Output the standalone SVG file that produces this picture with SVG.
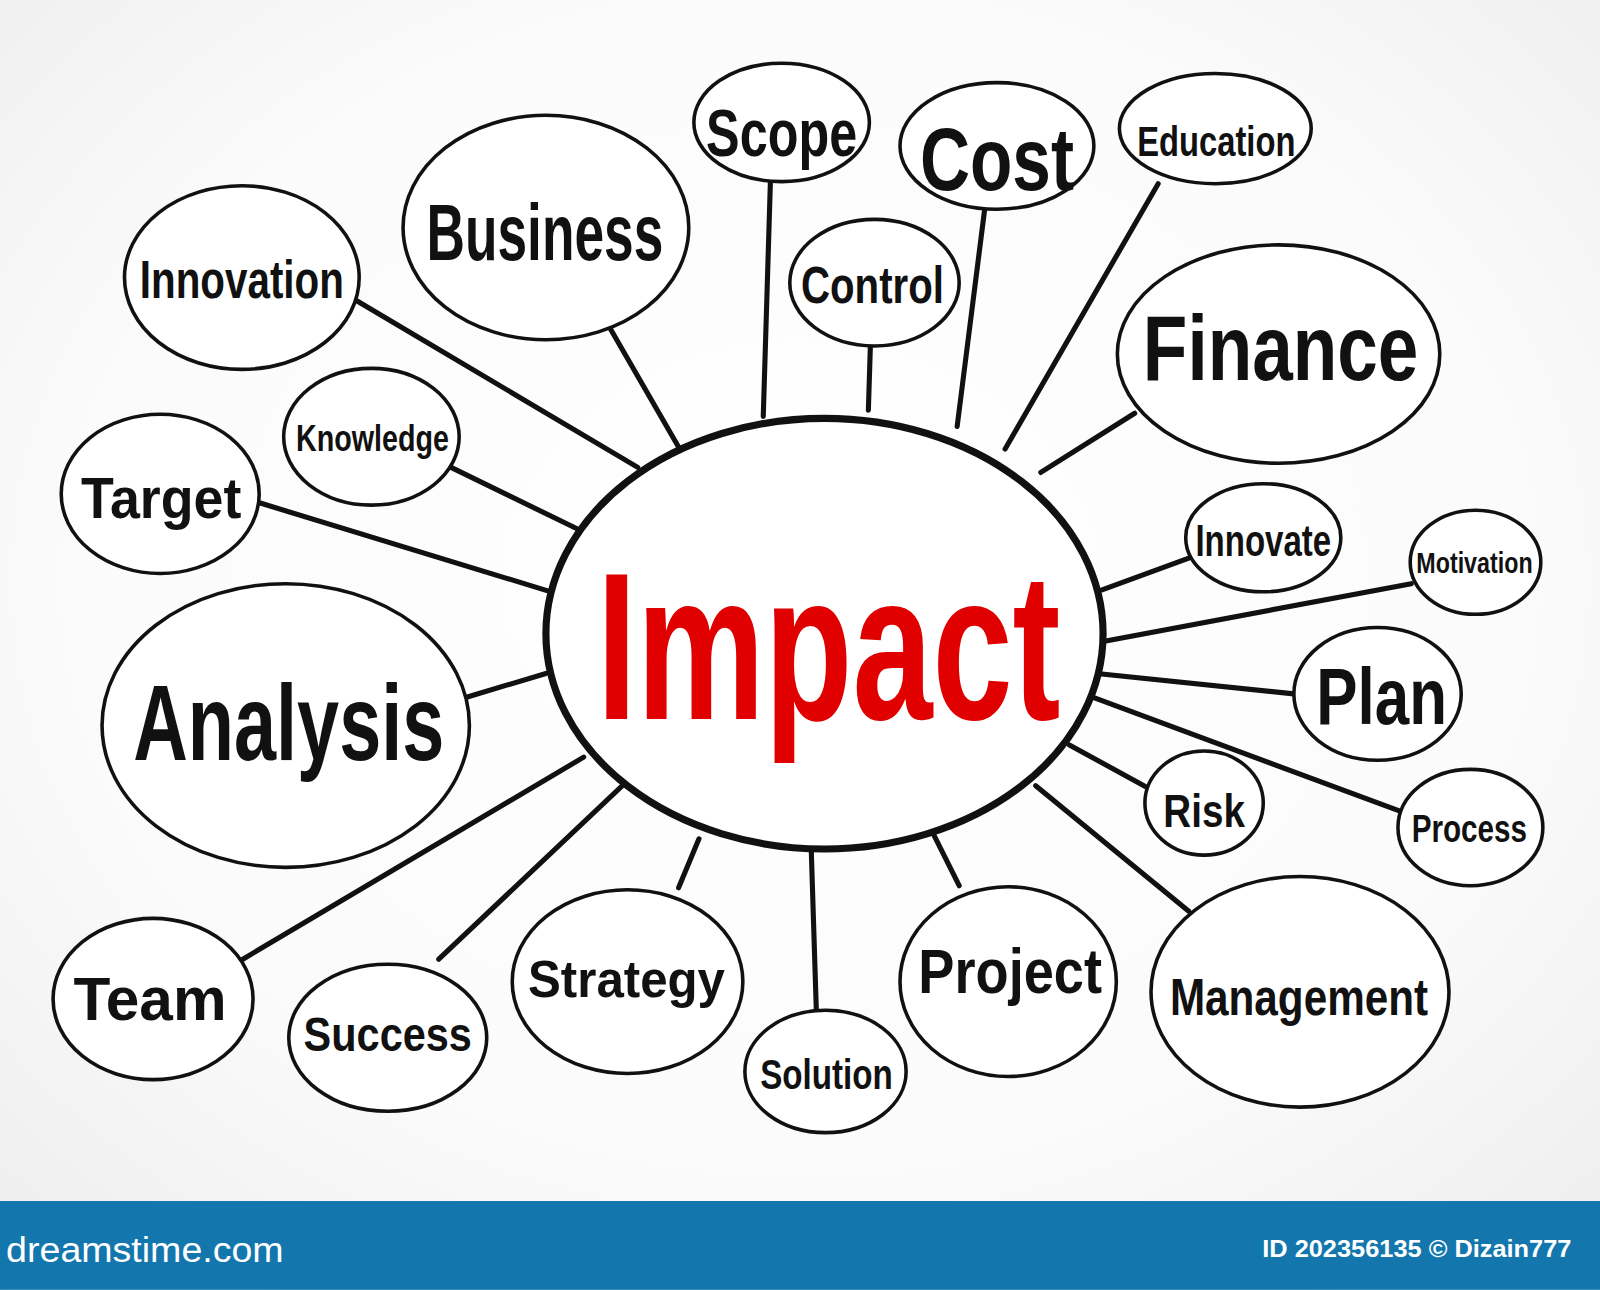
<svg xmlns="http://www.w3.org/2000/svg" width="1600" height="1290" viewBox="0 0 1600 1290">
<defs>
<radialGradient id="bg" cx="50%" cy="45%" r="75%">
<stop offset="0" stop-color="#ffffff"/>
<stop offset="0.6" stop-color="#fbfbfb"/>
<stop offset="1" stop-color="#ececec"/>
</radialGradient>
<style>
.n{fill:#ffffff;stroke:#111;stroke-width:3.5}
.c{fill:#ffffff;stroke:#111;stroke-width:7}
.t{font-family:"Liberation Sans","DejaVu Sans",sans-serif;font-weight:bold;fill:#111;text-anchor:middle}
.l{stroke:#111;stroke-width:5;stroke-linecap:round;fill:none}
.ft{font-family:"Liberation Sans","DejaVu Sans",sans-serif;fill:#ffffff}
</style>
</defs>
<rect width="1600" height="1290" fill="url(#bg)"/>
<g transform="scale(1.020408)">
<g id="connectors">
<line class="l" x1="350" y1="295" x2="625" y2="458"/>
<line class="l" x1="598" y1="322" x2="665" y2="438"/>
<line class="l" x1="755" y1="178" x2="748" y2="408"/>
<line class="l" x1="853" y1="338" x2="851" y2="402"/>
<line class="l" x1="965" y1="205" x2="938" y2="418"/>
<line class="l" x1="1135" y1="180" x2="985" y2="440"/>
<line class="l" x1="1112" y1="405" x2="1020" y2="463"/>
<line class="l" x1="442" y1="458" x2="565" y2="518"/>
<line class="l" x1="255" y1="493" x2="540" y2="580"/>
<line class="l" x1="458" y1="683" x2="535" y2="660"/>
<line class="l" x1="238" y1="940" x2="572" y2="742"/>
<line class="l" x1="430" y1="940" x2="612" y2="768"/>
<line class="l" x1="665" y1="870" x2="685" y2="822"/>
<line class="l" x1="800" y1="990" x2="795" y2="832"/>
<line class="l" x1="940" y1="868" x2="915" y2="818"/>
<line class="l" x1="1165" y1="893" x2="1015" y2="770"/>
<line class="l" x1="1130" y1="775" x2="1048" y2="730"/>
<line class="l" x1="1372" y1="795" x2="1070" y2="683"/>
<line class="l" x1="1268" y1="680" x2="1075" y2="660"/>
<line class="l" x1="1383" y1="572" x2="1085" y2="628"/>
<line class="l" x1="1165" y1="547" x2="1080" y2="578"/>
</g>
<g id="impact"><ellipse class="c" cx="808" cy="621" rx="273" ry="211"/><text class="t" transform="translate(812 705) scale(0.688 1)" x="0" y="0" font-size="205" style="fill:#e00000">Impact</text></g>
<g id="innovation"><ellipse class="n" cx="237" cy="272" rx="115" ry="90"/><text class="t" x="237" y="292" font-size="52" textLength="200" lengthAdjust="spacingAndGlyphs">Innovation</text></g>
<g id="business"><ellipse class="n" cx="535" cy="223" rx="140" ry="110"/><text class="t" x="534" y="255" font-size="78" textLength="232" lengthAdjust="spacingAndGlyphs">Business</text></g>
<g id="scope"><ellipse class="n" cx="766" cy="120" rx="86" ry="58"/><text class="t" x="766" y="153" font-size="66" textLength="148" lengthAdjust="spacingAndGlyphs">Scope</text></g>
<g id="cost"><ellipse class="n" cx="977" cy="143" rx="95" ry="62"/><text class="t" x="977" y="186" font-size="88" textLength="151" lengthAdjust="spacingAndGlyphs">Cost</text></g>
<g id="education"><ellipse class="n" cx="1191" cy="126" rx="94" ry="54"/><text class="t" x="1192" y="153" font-size="42" textLength="155" lengthAdjust="spacingAndGlyphs">Education</text></g>
<g id="control"><ellipse class="n" cx="857" cy="277" rx="83" ry="62"/><text class="t" x="855" y="297" font-size="50" textLength="140" lengthAdjust="spacingAndGlyphs">Control</text></g>
<g id="finance"><ellipse class="n" cx="1253" cy="347" rx="158" ry="107"/><text class="t" x="1255" y="372" font-size="90" textLength="270" lengthAdjust="spacingAndGlyphs">Finance</text></g>
<g id="knowledge"><ellipse class="n" cx="364" cy="428" rx="86" ry="67"/><text class="t" x="365" y="442" font-size="37" textLength="150" lengthAdjust="spacingAndGlyphs">Knowledge</text></g>
<g id="target"><ellipse class="n" cx="157" cy="484" rx="97" ry="78"/><text class="t" x="158" y="508" font-size="56" textLength="157" lengthAdjust="spacingAndGlyphs">Target</text></g>
<g id="analysis"><ellipse class="n" cx="280" cy="711" rx="180" ry="139"/><text class="t" x="283" y="745" font-size="106" textLength="305" lengthAdjust="spacingAndGlyphs">Analysis</text></g>
<g id="team"><ellipse class="n" cx="150" cy="979" rx="98" ry="79"/><text class="t" x="147" y="1000" font-size="60" textLength="150" lengthAdjust="spacingAndGlyphs">Team</text></g>
<g id="success"><ellipse class="n" cx="380" cy="1017" rx="97" ry="72"/><text class="t" x="380" y="1030" font-size="48" textLength="165" lengthAdjust="spacingAndGlyphs">Success</text></g>
<g id="strategy"><ellipse class="n" cx="615" cy="962" rx="113" ry="90"/><text class="t" x="614" y="977" font-size="50" textLength="193" lengthAdjust="spacingAndGlyphs">Strategy</text></g>
<g id="solution"><ellipse class="n" cx="809" cy="1050" rx="79" ry="60"/><text class="t" x="810" y="1067" font-size="42" textLength="130" lengthAdjust="spacingAndGlyphs">Solution</text></g>
<g id="project"><ellipse class="n" cx="988" cy="962" rx="106" ry="93"/><text class="t" x="990" y="973" font-size="62" textLength="180" lengthAdjust="spacingAndGlyphs">Project</text></g>
<g id="management"><ellipse class="n" cx="1274" cy="972" rx="146" ry="113"/><text class="t" x="1273" y="995" font-size="50" textLength="253" lengthAdjust="spacingAndGlyphs">Management</text></g>
<g id="risk"><ellipse class="n" cx="1180" cy="787" rx="58" ry="51"/><text class="t" x="1180" y="810" font-size="46" textLength="80" lengthAdjust="spacingAndGlyphs">Risk</text></g>
<g id="process"><ellipse class="n" cx="1441" cy="811" rx="71" ry="57"/><text class="t" x="1440" y="825" font-size="38" textLength="113" lengthAdjust="spacingAndGlyphs">Process</text></g>
<g id="plan"><ellipse class="n" cx="1350" cy="680" rx="82" ry="65"/><text class="t" x="1354" y="710" font-size="78" textLength="128" lengthAdjust="spacingAndGlyphs">Plan</text></g>
<g id="motivation"><ellipse class="n" cx="1446" cy="551" rx="64" ry="51"/><text class="t" x="1445" y="562" font-size="29" textLength="114" lengthAdjust="spacingAndGlyphs">Motivation</text></g>
<g id="innovate"><ellipse class="n" cx="1238" cy="527" rx="76" ry="53"/><text class="t" x="1238" y="545" font-size="43" textLength="133" lengthAdjust="spacingAndGlyphs">Innovate</text></g>
<g id="footer">
<rect x="0" y="1177" width="1568" height="87" fill="#1377ae"/>
<text class="ft" x="6" y="1237" font-size="34" textLength="272" lengthAdjust="spacingAndGlyphs">dreamstime.com</text>
<text class="ft" x="1540" y="1232" font-size="23" font-weight="bold" text-anchor="end" textLength="303" lengthAdjust="spacingAndGlyphs">ID 202356135 © Dizain777</text>
</g>
</g>
</svg>
